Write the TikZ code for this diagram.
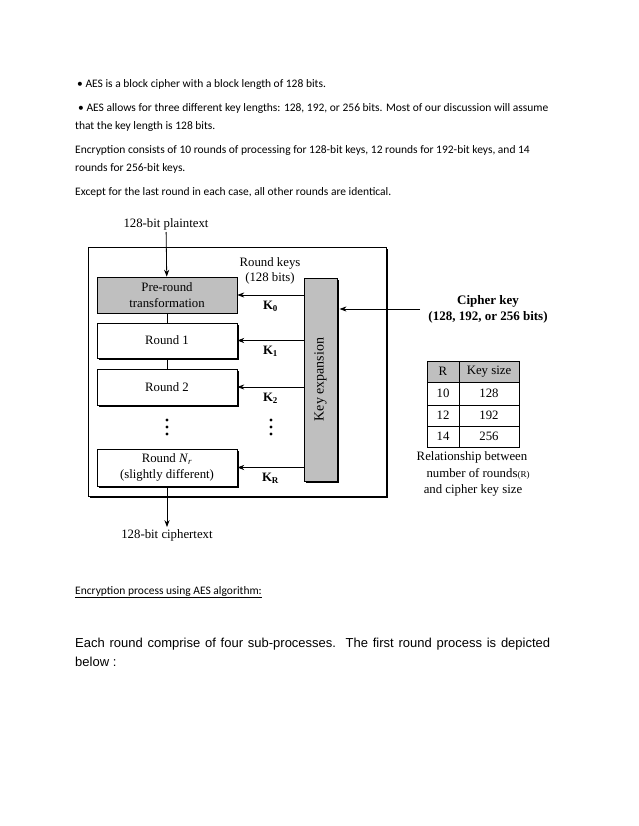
\documentclass[tikz,border=0pt]{standalone}
\usepackage{fontspec}
\setmainfont{Carlito}
\newfontfamily\figfont{Liberation Serif}
\newfontfamily\parafont{Liberation Sans}
\usetikzlibrary{arrows.meta,shadows}
\tikzset{
	>={Stealth[length=2.4mm,width=1.8mm]},
	bodytext/.style={anchor=base west, inner sep=0pt, font=\fontsize{11.5}{14}\selectfont},
	figlabel/.style={font=\figfont\fontsize{12.8}{15.5}\selectfont, align=center, inner sep=2pt},
	stage/.style={draw, line width=0.8pt, fill=white, minimum width=140pt, minimum height=36pt,
		inner sep=1pt, align=center, font=\figfont\fontsize{12.8}{15.5}\selectfont},
	boxshadow/.style={drop shadow={shadow xshift=2.2pt, shadow yshift=-2.2pt, fill=black, opacity=1}},
	flow/.style={line width=0.8pt},
	keyline/.style={line width=0.8pt, ->},
	keylabel/.style={font=\figfont\bfseries\fontsize{12.8}{15}\selectfont},
	tabletext/.style={font=\figfont\fontsize{12.8}{15}\selectfont},
	tablerule/.style={line width=0.8pt},
}

\begin{document}
\begin{tikzpicture}[x=1pt,y=-1pt]
	\useasboundingbox[fill=white] (0,0) rectangle (638,826);
	
	% Intro text
	\node[bodytext] (l1) at (77,88) {\textbullet\ AES is a block cipher with a block length of 128 bits.};
	\node[bodytext] (l2) at (78,112) {\textbullet\ AES allows for three different key lengths: 128, 192, or 256 bits. Most of our discussion will assume};
	\node[bodytext] (l3) at (75,130) {that the key length is 128 bits.};
	\node[bodytext] (l4) at (75,154) {Encryption consists of 10 rounds of processing for 128-bit keys, 12 rounds for 192-bit keys, and 14};
	\node[bodytext] (l5) at (75,172) {rounds for 256-bit keys.};
	\node[bodytext] (l6) at (75,196) {Except for the last round in each case, all other rounds are identical.};
	
	% Frame
	\node[draw, line width=0.8pt, fill=white, boxshadow, minimum width=298pt, minimum height=249pt,
		inner sep=0pt] (frame) at (237,371.5) {};
	
	% Rounds
	\node[stage, fill=gray!50] (pre) at (167,295) {Pre-round\\transformation};
	\node[stage, boxshadow, minimum height=35pt] (r1) at (167,340.5) {Round 1};
	\node[stage, boxshadow] (r2) at (167,387) {Round 2};
	\node[stage, boxshadow, minimum height=37pt] (rn) at (167,467.5) {Round \textit{N}\textsubscript{\textit{r}}\\(slightly different)};
	
	% Key expansion
	\node[draw, line width=0.8pt, fill=gray!50, boxshadow, minimum width=33pt, minimum height=203pt,
		inner sep=0pt] (keyexp) at (320.5,379.5) {};
	\node[rotate=90, font=\figfont\fontsize{14}{16}\selectfont] (keyname) at (keyexp.center) {Key expansion};
	\coordinate (kxe) at ([xshift=2.2pt]keyexp.east);
	
	% Labels
	\node[figlabel] (plain) at (166,224) {128-bit plaintext};
	\node[figlabel] (ctext) at (167,535) {128-bit ciphertext};
	\node[figlabel] (rkeys) at (270,271) {Round keys\\(128 bits)};
	\node[figlabel, font=\figfont\bfseries\fontsize{13}{16}\selectfont] (ckey) at (488,309) {Cipher key\\(128, 192, or 256 bits)};
	
	% Data path
	\draw[flow,->] (plain) -- (pre);
	\draw[flow] (pre) -- (r1);
	\draw[flow] (r1) -- (r2);
	\draw[flow,->] (rn) -- (ctext);
	
	% Round keys
	\foreach \s/\k in {pre/0, r1/1, r2/2, rn/R}
		\draw[keyline] (keyexp.west |- \s.east) -- node[keylabel, yshift=-11pt] (key\k) {K\textsubscript{\k}} (\s.east);
	\draw[keyline] ([xshift=-6pt]ckey.west) -- (kxe |- ckey.west);
	
	% Dots
	\foreach \x in {167,271}
		\foreach \y in {420,427,434}
			\fill (\x,\y) circle (1.6);
	
	% Table
	\fill[gray!50] (427,361) rectangle (519,382);
	\draw[tablerule] (427,361) rectangle (519,447);
	\foreach \y in {382,405,426}
		\draw[tablerule] (427,\y) -- (519,\y);
	\draw[tablerule] (459,361) -- (459,447);
	\node[tabletext] (hR) at (443,371.5) {R};
	\node[tabletext] (hK) at (489,371.5) {Key size};
	\foreach \r/\k/\y in {10/128/393.5, 12/192/415.5, 14/256/436.5} {
		\node[tabletext] (rows\r) at (443,\y) {\r};
		\node[tabletext] (size\r) at (489,\y) {\k};
	}
	\node[figlabel] (cap1) at (472,457) {Relationship between};
	\node[figlabel] (cap2) at (478,474) {number of rounds{\fontsize{9}{10}\selectfont(R)}};
	\node[figlabel] (cap3) at (473,490) {and cipher key size};
	
	% Closing text
	\node[bodytext] (head) at (75,594) {\underline{Encryption process using AES algorithm:}};
	\node[anchor=north west, inner sep=0pt, text width=475pt, align=justify,
		font=\parafont\fontsize{13}{19}\selectfont] (para) at (75,638)
		{Each round comprise of four sub-processes.\ \ The first round process is depicted\linebreak below :};
\end{tikzpicture}
\end{document}
